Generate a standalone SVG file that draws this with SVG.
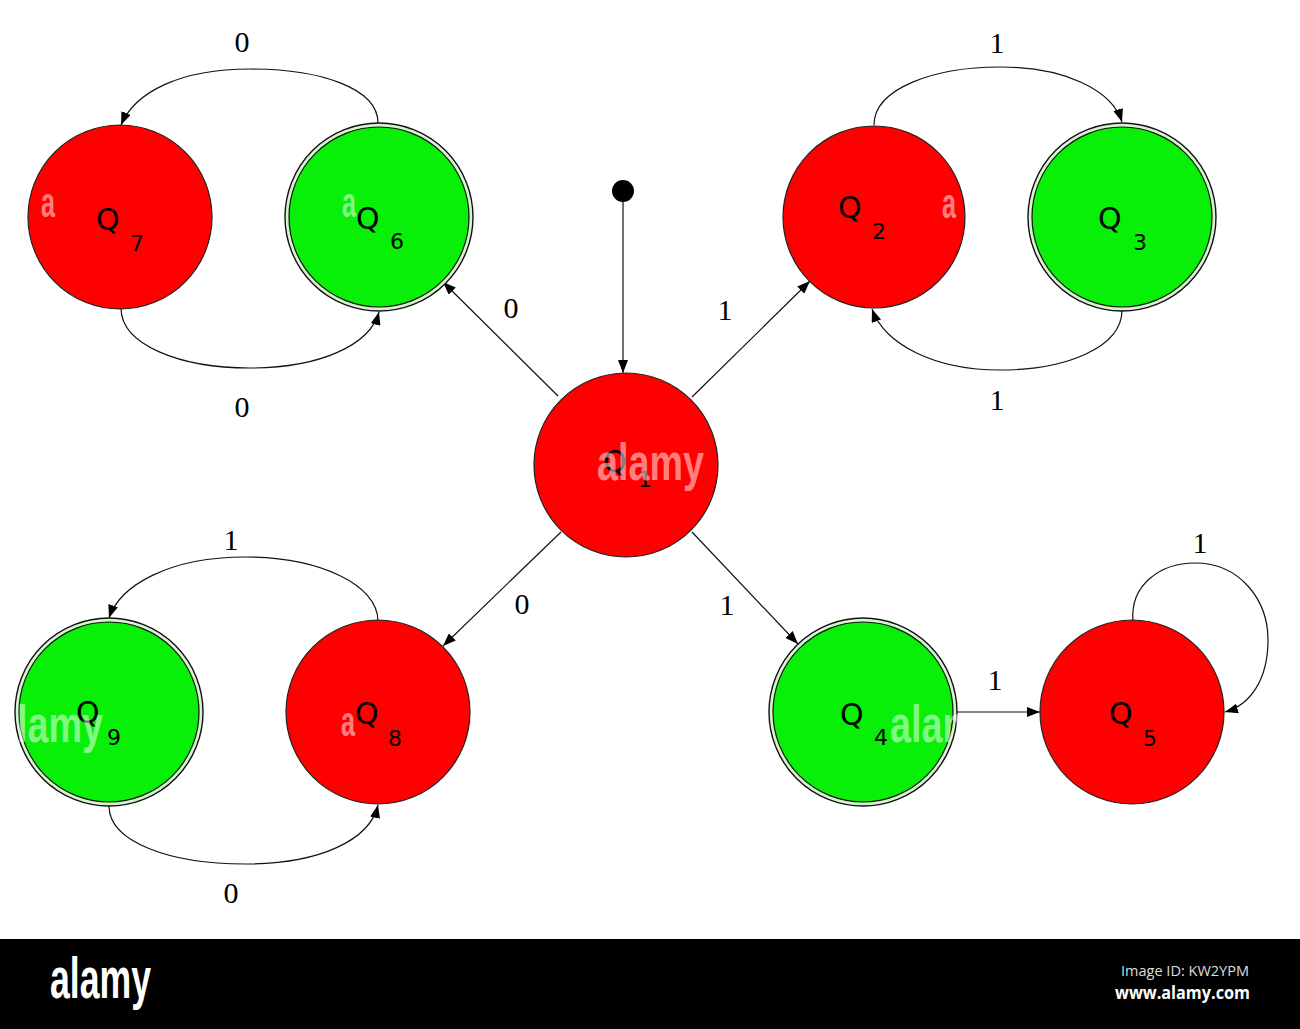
<svg xmlns="http://www.w3.org/2000/svg" width="1300" height="1029" viewBox="0 0 1300 1029">
<style>
.red{fill:#ff0000;stroke:#222;stroke-width:1.2}
.gout{fill:#d6f5cf;stroke:#111;stroke-width:1.4}
.gin{fill:#08f008;stroke:#111;stroke-width:1.2}
.q{font-family:"DejaVu Sans","Liberation Sans",sans-serif;font-size:30px;fill:#000}
.sub{font-family:"DejaVu Sans","Liberation Sans",sans-serif;font-size:22px;fill:#000}
.lbl{font-family:"Liberation Serif","Times New Roman",serif;font-size:30px;fill:#000;text-anchor:middle}
.edge{fill:none;stroke:#111;stroke-width:1.2}
.wm{font-family:"Liberation Sans",Arial,sans-serif;font-weight:bold;fill:#fff;fill-opacity:0.5}
</style>
<defs>
<marker id="arr" markerUnits="userSpaceOnUse" markerWidth="14" markerHeight="10" refX="13" refY="5" orient="auto">
<path d="M0,0 L13,5 L0,10 Z" fill="#000"/>
</marker>
</defs>
<rect x="0" y="0" width="1300" height="1029" fill="#fff"/>

<g id="connectors">
<path class="edge" d="M623,191 L623,373" marker-end="url(#arr)"/>
<path class="edge" d="M558,396 L443,282" marker-end="url(#arr)"/>
<path class="edge" d="M692,397 L810,281" marker-end="url(#arr)"/>
<path class="edge" d="M561,532 L443,646" marker-end="url(#arr)"/>
<path class="edge" d="M692,532 L798,644" marker-end="url(#arr)"/>
<path class="edge" d="M957,712 L1040,712" marker-end="url(#arr)"/>
<path class="edge" d="M378,123 C378,88 320,69 250,69 C180,69 135,92 121,125" marker-end="url(#arr)"/>
<path class="edge" d="M121,308 C121,345 180,368 250,368 C320,368 370,345 379,312" marker-end="url(#arr)"/>
<path class="edge" d="M874,125 C874,88 935,67 1000,67 C1065,67 1112,90 1122,122" marker-end="url(#arr)"/>
<path class="edge" d="M1122,310 C1122,348 1065,370 1000,370 C935,370 885,345 872,309" marker-end="url(#arr)"/>
<path class="edge" d="M378,621 C378,585 320,557 245,557 C170,557 120,585 109,618" marker-end="url(#arr)"/>
<path class="edge" d="M109,806 C109,842 170,864 245,864 C320,864 370,840 378,805" marker-end="url(#arr)"/>
<path class="edge" d="M1133,621 C1130,585 1160,563 1195,563 C1240,563 1268,600 1268,640 C1268,680 1250,705 1225,712" marker-end="url(#arr)"/>
<text class="lbl" x="242" y="52">0</text>
<text class="lbl" x="242" y="417">0</text>
<text class="lbl" x="997" y="53">1</text>
<text class="lbl" x="997" y="410">1</text>
<text class="lbl" x="511" y="318">0</text>
<text class="lbl" x="725" y="320">1</text>
<text class="lbl" x="522" y="614">0</text>
<text class="lbl" x="727" y="615">1</text>
<text class="lbl" x="231" y="550">1</text>
<text class="lbl" x="231" y="903">0</text>
<text class="lbl" x="995" y="690">1</text>
<text class="lbl" x="1200" y="553">1</text>
</g>

<g id="start"><circle cx="623" cy="191" r="11" fill="#000"/></g>

<g id="Q1"><circle class="red" cx="626" cy="465" r="92"/><text class="q" x="603" y="472">Q</text><text class="sub" x="638" y="487">1</text></g>
<g id="Q7"><circle class="red" cx="120" cy="217" r="92"/><text class="q" x="96" y="230">Q</text><text class="sub" x="130" y="251">7</text></g>
<g id="Q6"><circle class="gout" cx="379" cy="217" r="94"/><circle class="gin" cx="379" cy="217" r="90"/><text class="q" x="356" y="229">Q</text><text class="sub" x="390" y="249">6</text></g>
<g id="Q2"><circle class="red" cx="874" cy="217" r="91"/><text class="q" x="838" y="218">Q</text><text class="sub" x="872" y="239">2</text></g>
<g id="Q3"><circle class="gout" cx="1122" cy="217" r="94"/><circle class="gin" cx="1122" cy="217" r="90"/><text class="q" x="1098" y="229">Q</text><text class="sub" x="1133" y="250">3</text></g>
<g id="Q9"><circle class="gout" cx="109" cy="712" r="94"/><circle class="gin" cx="109" cy="712" r="90"/><text class="q" x="76" y="723">Q</text><text class="sub" x="107" y="745">9</text></g>
<g id="Q8"><circle class="red" cx="378" cy="712" r="92"/><text class="q" x="355" y="724">Q</text><text class="sub" x="388" y="746">8</text></g>
<g id="Q4"><circle class="gout" cx="863" cy="712" r="94"/><circle class="gin" cx="863" cy="712" r="90"/><text class="q" x="840" y="725">Q</text><text class="sub" x="874" y="745">4</text></g>
<g id="Q5"><circle class="red" cx="1132" cy="712" r="92"/><text class="q" x="1109" y="724">Q</text><text class="sub" x="1143" y="746">5</text></g>

<g id="watermark">
<text class="wm" x="597" y="480" font-size="52" textLength="107" lengthAdjust="spacingAndGlyphs">alamy</text>
<text class="wm" x="17" y="742" font-size="52" textLength="86" lengthAdjust="spacingAndGlyphs">lamy</text>
<text class="wm" x="890" y="742" font-size="52" textLength="107" lengthAdjust="spacingAndGlyphs">alamy</text>
<text class="wm" x="41" y="217" font-size="42" textLength="14" lengthAdjust="spacingAndGlyphs">a</text>
<text class="wm" x="342" y="217" font-size="42" textLength="14" lengthAdjust="spacingAndGlyphs">a</text>
<text class="wm" x="942" y="218" font-size="42" textLength="14" lengthAdjust="spacingAndGlyphs">a</text>
<text class="wm" x="341" y="736" font-size="42" textLength="14" lengthAdjust="spacingAndGlyphs">a</text>
</g>

<g id="footer">
<rect x="0" y="939" width="1300" height="90" fill="#000"/>
<text x="50" y="998" font-family="Liberation Sans, Arial, sans-serif" font-weight="bold" font-size="58" fill="#fff" textLength="101" lengthAdjust="spacingAndGlyphs">alamy</text>
<text x="1121" y="976" font-family="Open Sans, Liberation Sans, sans-serif" font-size="15" fill="#ddd" textLength="128" lengthAdjust="spacingAndGlyphs">Image ID: KW2YPM</text>
<text x="1115" y="999" font-family="Open Sans, Liberation Sans, sans-serif" font-weight="bold" font-size="18" fill="#fff" textLength="135" lengthAdjust="spacingAndGlyphs">www.alamy.com</text>
</g>
</svg>
